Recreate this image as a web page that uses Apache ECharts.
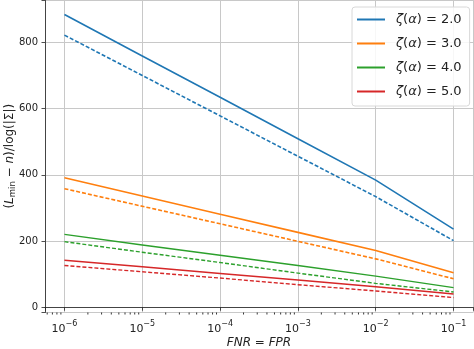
<!DOCTYPE html>
<html>
<head>
<meta charset="utf-8">
<script src="https://cdn.jsdelivr.net/npm/echarts@6/dist/echarts.min.js"></script>
<style>html,body{margin:0;padding:0;background:#fff}#c{width:474px;height:349px}</style>
</head>
<body>
<div id="c"></div>
<script>
// FNR = FPR values (x)
var fnr = [1e-6, 1e-5, 1e-4, 1e-3, 1e-2, 1e-1];
var zetaLabels = ['2.0', '3.0', '4.0', '5.0'];
// solid lines
var solid20 = [884, 759, 634, 509, 384, 236];
var solid30 = [391, 336, 281, 226, 171, 104];
var solid40 = [220, 188, 157, 126, 94, 59];
var solid50 = [142, 122, 102, 82, 62, 40];
// dashed lines
var dashed20 = [822, 700, 578, 456, 334, 201];
var dashed30 = [358, 305, 252, 199, 146, 86];
var dashed40 = [198, 166, 135, 103, 72, 46];
var dashed50 = [126, 107, 88, 68, 49, 29];
var xTickExponents = [-6, -5, -4, -3, -2, -1];

var colors = ['#1f77b4', '#ff7f0e', '#2ca02c', '#d62728'];
var solids = [solid20, solid30, solid40, solid50];
var dasheds = [dashed20, dashed30, dashed40, dashed50];
var widths = [1.6, 1.6, 1.4, 1.4];

var XMIN = Math.pow(10, -6.25), XMAX = Math.pow(10, -0.75);
var YMIN = -16, YMAX = 928;

function pairs(ys) { return fnr.map(function (x, i) { return [x, ys[i]]; }); }
function legName(z) { return 'ζ(α) = ' + z; }

// minor tick positions (axis decoration)
var minorTicks = [];
for (var e = -7; e <= -1; e++) {
  for (var k = 2; k <= 9; k++) {
    var v = k * Math.pow(10, e);
    if (v > XMIN && v < XMAX) minorTicks.push([v, YMIN]);
  }
}

var series = [];
solids.forEach(function (ys, i) {
  series.push({
    name: legName(zetaLabels[i]), type: 'line', data: pairs(ys), showSymbol: false,
    lineStyle: { color: colors[i], width: widths[i] }, itemStyle: { color: colors[i] }, z: 3
  });
});
dasheds.forEach(function (ys, i) {
  series.push({
    name: 'dashed ' + zetaLabels[i], type: 'line', data: pairs(ys), showSymbol: false,
    lineStyle: { color: colors[i], width: widths[i], type: [4, 2] }, itemStyle: { color: colors[i] }, z: 3
  });
});
series.push({
  type: 'custom', data: minorTicks, clip: false, silent: true, z: 4,
  renderItem: function (params, api) {
    var p = api.coord([api.value(0), api.value(1)]);
    return { type: 'line', shape: { x1: p[0], y1: p[1], x2: p[0], y2: p[1] + 2 },
      style: { stroke: '#000', lineWidth: 0.8 } };
  }
});

function expLabel(v) {
  var ex = Math.log10(v), r = Math.round(ex);
  if (Math.abs(ex - r) > 1e-6 || xTickExponents.indexOf(r) < 0) return '';
  return '{b|10}{s|−' + Math.abs(r) + '}';
}

var chart = echarts.init(document.getElementById('c'), null, { renderer: 'canvas' });
chart.setOption({
  animation: false,
  textStyle: { fontFamily: 'DejaVu Sans' },
  grid: { left: 45, right: 1, top: 0, bottom: 36.5, containLabel: false, outerBoundsMode: 'none' },
  xAxis: {
    type: 'log', logBase: 10, min: XMIN, max: XMAX,
    name: 'FNR = FPR', nameLocation: 'middle', nameGap: 24, nameMoveOverlap: false,
    nameTextStyle: { fontFamily: 'DejaVu Sans', fontStyle: 'italic', fontSize: 12, color: '#222' },
    axisLine: { lineStyle: { color: '#222', width: 0.8 } },
    axisTick: { length: 3.5, lineStyle: { color: '#222', width: 0.8 } },
    splitLine: { show: true, lineStyle: { color: '#c8c8c8', width: 1 } },
    minorTick: { show: false },
    axisLabel: {
      margin: 5, color: '#222', formatter: expLabel,
      rich: {
        b: { fontSize: 11, fontFamily: 'DejaVu Sans', color: '#222', padding: [6, 0, 0, 0] },
        s: { fontSize: 8, fontFamily: 'DejaVu Sans', color: '#222', padding: [0, 0, 4, 0] }
      }
    }
  },
  yAxis: {
    type: 'value', min: YMIN, max: YMAX,
    name: '{t|(}{i|L}{sub|min}{t| − }{i|n}{t|)/log(|Σ|)}', nameLocation: 'middle', nameGap: 28, nameRotate: 90,
    nameMoveOverlap: false,
    nameTextStyle: {
      rich: {
        t: { fontSize: 12, fontFamily: 'DejaVu Sans', color: '#222' },
        i: { fontSize: 12, fontFamily: 'DejaVu Sans', fontStyle: 'italic', color: '#222' },
        sub: { fontSize: 8.5, fontFamily: 'DejaVu Sans', color: '#222', padding: [5, 0, 0, 0] }
      }
    },
    axisLine: { show: true, lineStyle: { color: '#222', width: 0.8 } },
    axisTick: { show: true, length: 3.5, lineStyle: { color: '#222', width: 0.8 } },
    splitLine: { show: true, lineStyle: { color: '#c8c8c8', width: 1 } },
    axisLabel: {
      margin: 7, fontSize: 10, color: '#222', fontFamily: 'DejaVu Sans',
      formatter: function (v) { return (v % 200 === 0 && v >= 0) ? String(v) : ''; }
    }
  },
  legend: {
    orient: 'vertical', left: 352, top: 7,
    data: zetaLabels.map(legName),
    icon: 'rect', itemWidth: 28, itemHeight: 2, itemGap: 11,
    padding: [6, 8, 8, 5],
    backgroundColor: 'rgba(255,255,255,0.85)', borderColor: '#d8d8d8', borderWidth: 1, borderRadius: 3,
    formatter: function (n) { return '{i|ζ}{t|(}{i|α}{t|) = ' + n.split('= ')[1] + '}'; },
    textStyle: {
      padding: [0, 0, 0, 6],
      rich: {
        i: { fontSize: 13, fontFamily: 'DejaVu Sans', fontStyle: 'italic', color: '#222' },
        t: { fontSize: 13, fontFamily: 'DejaVu Sans', color: '#222' }
      }
    }
  },
  series: series
});
</script>
</body>
</html>
